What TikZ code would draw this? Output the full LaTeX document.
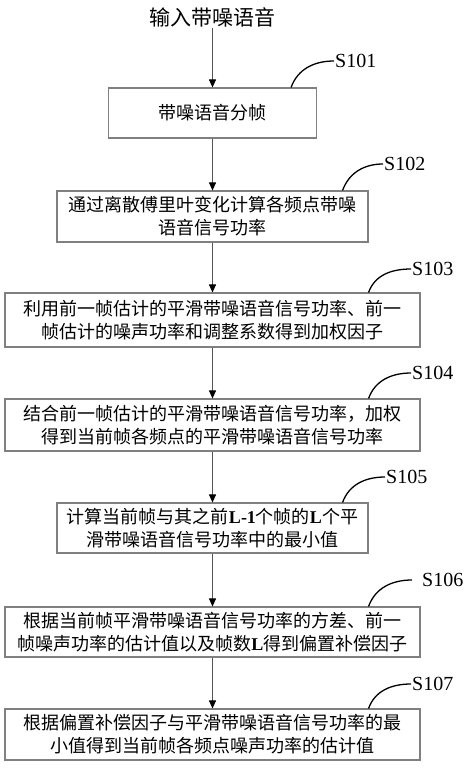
\documentclass[tikz,border=0pt]{standalone}
\usepackage{fontspec}
\setmainfont{Noto Sans CJK SC}
\newfontfamily\latfont{Liberation Serif}
\usetikzlibrary{arrows.meta}
\definecolor{boxgray}{RGB}{128,128,128}
\definecolor{linegray}{RGB}{85,85,85}
\tikzset{
  stepbox/.style={draw=boxgray, line width=1.1pt, align=center, inner sep=0pt,
    minimum height=50pt, font=\fontsize{18}{23}\selectfont},
  steplabel/.style={anchor=west, inner sep=1pt, font=\latfont\fontsize{20}{22}\selectfont},
  flow/.style={draw=linegray, line width=0.9pt, -{Triangle[length=8pt,width=7pt,color=black]}},
  leader/.style={draw=black, line width=1.3pt}
}
\begin{document}
\begin{tikzpicture}[x=1pt,y=-1pt]
\useasboundingbox (0,0) rectangle (474,768);
\pgfmathsetmacro{\kc}{212.5}
\pgfmathsetmacro{\kwide}{415}
\pgfmathsetmacro{\kmid}{311}
\pgfmathsetmacro{\knar}{208}
%
\node[font=\fontsize{21}{24}\selectfont, inner sep=1pt] (in) at (\kc,17) {输入带噪语音};
%
\node[stepbox, minimum width=\knar pt] (b1) at (\kc,113) {带噪语音分帧};
\node[stepbox, minimum width=\kmid pt, minimum height=51pt] (b2) at (\kc,216.5)
  {通过离散傅里叶变化计算各频点带噪\\语音信号功率};
\node[stepbox, minimum width=\kwide pt, minimum height=54pt] (b3) at (\kc,320)
  {利用前一帧估计的平滑带噪语音信号功率、前一\\帧估计的噪声功率和调整系数得到加权因子};
\node[stepbox, minimum width=\kwide pt, minimum height=52pt] (b4) at (\kc,425)
  {结合前一帧估计的平滑带噪语音信号功率，加权\\得到当前帧各频点的平滑带噪语音信号功率};
\node[stepbox, minimum width=\kmid pt] (b5) at (\kc,528)
  {计算当前帧与其之前{\latfont\bfseries L-1}个帧的{\latfont\bfseries L}个平\\滑带噪语音信号功率中的最小值};
\node[stepbox, minimum width=\kwide pt] (b6) at (\kc,632)
  {根据当前帧平滑带噪语音信号功率的方差、前一\\帧噪声功率的估计值以及帧数{\latfont\bfseries L}得到偏置补偿因子};
\node[stepbox, minimum width=\kwide pt, minimum height=51pt] (b7) at (\kc,734.5)
  {根据偏置补偿因子与平滑带噪语音信号功率的最\\小值得到当前帧各频点噪声功率的估计值};
%
\draw[flow] (in) -- (b1);
\draw[flow] (b1) -- (b2);
\draw[flow] (b2) -- (b3);
\draw[flow] (b3) -- (b4);
\draw[flow] (b4) -- (b5);
\draw[flow] (b5) -- (b6);
\draw[flow] (b6) -- (b7);
%
\node[steplabel] (s1) at (334,61) {S101};
\node[steplabel] (s2) at (383,164) {S102};
\node[steplabel] (s3) at (411,269) {S103};
\node[steplabel] (s4) at (411,373) {S104};
\node[steplabel] (s5) at (385,477) {S105};
\node[steplabel] (s6) at (421,580) {S106};
\node[steplabel] (s7) at (411,684) {S107};
%
\draw[leader] ([xshift=-26pt]b1.north east) to[out=70,in=180] (s1.west);
\draw[leader] ([xshift=-26pt]b2.north east) to[out=70,in=180] (s2.west);
\draw[leader] ([xshift=-52pt]b3.north east) to[out=70,in=180] (s3.west);
\draw[leader] ([xshift=-52pt]b4.north east) to[out=70,in=180] (s4.west);
\draw[leader] ([xshift=-26pt]b5.north east) to[out=70,in=180] (s5.west);
\draw[leader] ([xshift=-52pt]b6.north east) to[out=70,in=180] ([xshift=-9pt]s6.west);
\draw[leader] ([xshift=-52pt]b7.north east) to[out=70,in=180] (s7.west);
\end{tikzpicture}
\end{document}
